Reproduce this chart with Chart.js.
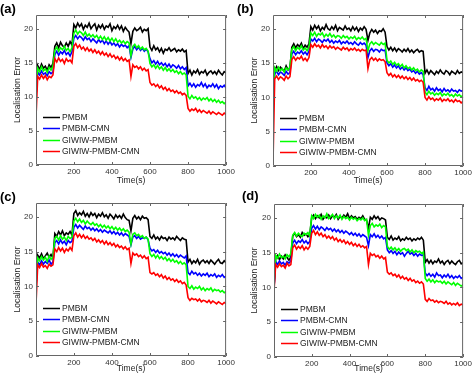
<!DOCTYPE html>
<html>
<head>
<meta charset="utf-8">
<script src="https://cdn.jsdelivr.net/npm/chart.js@4.4.1/dist/chart.umd.min.js"></script>
<style>
  body { margin: 0; background: #fff; }
  #wrap { position: relative; width: 474px; height: 376px; overflow: hidden; }
  canvas { position: absolute; }
  .tag { position: absolute; font: bold 13px "Liberation Sans", Arial, sans-serif; line-height: 13px; color: #000; }
</style>
</head>
<body>
<div id="wrap">
  <canvas id="pa" width="237" height="188" style="left:0;top:0"></canvas>
  <canvas id="pb" width="237" height="188" style="left:237px;top:0"></canvas>
  <canvas id="pc" width="237" height="188" style="left:0;top:188px"></canvas>
  <canvas id="pd" width="237" height="188" style="left:237px;top:188px"></canvas>
  <div class="tag" style="left:0;top:2px">(a)</div>
  <div class="tag" style="left:237px;top:2px">(b)</div>
  <div class="tag" style="left:0;top:190px">(c)</div>
  <div class="tag" style="left:242px;top:189px">(d)</div>
</div>
<script>
const seriesNames = ["PMBM", "PMBM-CMN", "GIWIW-PMBM", "GIWIW-PMBM-CMN"];
const seriesColors = ["#000000", "#0000ff", "#00ff00", "#ff0000"];
const xTicks = [200, 400, 600, 800, 1000];
const yTicks = [0, 5, 10, 15, 20];

// time (s) of every sample, read at 10 s spacing
const time = [1,
  10, 20, 30, 40, 50, 60, 70, 80, 90,
  100, 110, 120, 130, 140, 150, 160, 170, 180, 190,
  200, 210, 220, 230, 240, 250, 260, 270, 280, 290,
  300, 310, 320, 330, 340, 350, 360, 370, 380, 390,
  400, 410, 420, 430, 440, 450, 460, 470, 480, 490,
  500,
  510, 520, 530, 540, 550, 560, 570, 580, 590,
  600, 610, 620, 630, 640, 650, 660, 670, 680, 690,
  700, 710, 720, 730, 740, 750, 760, 770, 780, 790,
  800, 810, 820, 830, 840, 850, 860, 870, 880, 890,
  900, 910, 920, 930, 940, 950, 960, 970, 980, 990, 1000];

// ---- (a)
const blackA = [10.0,
  14.6, 14.0, 14.8, 14.2, 14.5, 13.9, 14.7, 14.3, 14.9,
  17.4, 17.9, 17.2, 18.0, 17.5, 17.3, 17.9, 17.4, 18.1, 17.6,
  20.6, 20.1, 20.8, 20.3, 20.7, 19.9, 20.5, 20.2, 20.8, 20.0,
  20.4, 20.7, 19.8, 20.5, 20.1, 20.6, 19.9, 20.4, 20.2, 20.7,
  19.7, 20.3, 20.0, 20.5, 19.9, 20.4, 19.6, 20.2, 19.8, 19.5,
  17.8,
  19.6, 20.1, 19.7, 19.9, 20.2, 19.5, 19.9, 19.7, 20.0,
  17.3, 16.8, 17.5, 16.9, 17.2, 16.6, 17.1, 16.4, 17.0, 16.8,
  17.2, 16.7, 16.9, 17.1, 16.6, 16.9, 16.7, 17.0, 16.6, 16.8,
  13.4, 13.9, 13.2, 13.8, 13.5, 14.0, 13.3, 13.7, 13.5, 13.9,
  13.2, 13.6, 13.8, 13.4, 13.7, 13.3, 13.9, 13.5, 13.2, 13.7, 13.5];
const blueA = [10.0,
  13.6, 13.2, 13.8, 13.3, 13.5, 13.1, 13.7, 13.4, 13.6,
  16.2, 16.7, 16.1, 16.6, 16.3, 16.8, 16.2, 16.5, 16.0, 16.6,
  18.6, 19.0, 18.5, 18.9, 18.7, 18.3, 18.8, 18.4, 18.6, 18.1,
  18.5, 18.2, 17.9, 18.4, 18.0, 18.3, 17.8, 18.2, 17.7, 18.1,
  17.6, 17.9, 17.5, 17.8, 17.3, 17.7, 17.4, 17.6, 17.2, 17.5,
  15.8,
  17.0, 17.4, 16.9, 17.3, 16.8, 17.1, 16.7, 17.0, 16.6,
  15.6, 15.0, 15.3, 14.8, 15.2, 14.7, 15.0, 14.6, 14.9, 14.4,
  14.8, 14.3, 14.7, 14.5, 14.2, 14.6, 14.1, 14.4, 14.0, 14.3,
  11.6, 12.0, 11.5, 11.9, 11.4, 11.8, 11.6, 12.1, 11.5, 11.9,
  11.3, 11.7, 11.5, 11.9, 11.4, 11.8, 11.2, 11.6, 11.4, 11.7, 11.3];
const greenA = [10.5,
  14.2, 13.7, 14.4, 13.8, 14.1, 13.6, 14.3, 13.9, 14.5,
  16.8, 17.3, 16.7, 17.2, 16.9, 17.4, 16.8, 17.1, 16.6, 17.2,
  19.3, 19.8, 19.2, 19.6, 19.4, 19.0, 19.5, 18.9, 19.2, 18.8,
  19.1, 18.7, 19.0, 18.5, 18.9, 18.4, 18.8, 18.3, 18.7, 18.2,
  18.6, 18.1, 18.5, 18.0, 18.3, 17.9, 18.2, 17.8, 18.1, 17.9,
  16.0,
  17.4, 17.7, 17.2, 17.5, 17.0, 17.3, 16.9, 17.1, 16.7,
  14.9, 14.4, 14.7, 14.2, 14.6, 14.1, 14.4, 13.9, 14.3, 13.8,
  14.1, 13.7, 14.0, 13.6, 13.8, 13.4, 13.7, 13.3, 13.5, 13.2,
  10.1, 9.7, 10.2, 9.8, 10.0, 9.6, 9.9, 9.5, 9.8, 9.6,
  9.9, 9.4, 9.7, 9.3, 9.6, 9.2, 9.5, 9.1, 9.3, 9.0, 9.2];
const redA = [7.0,
  13.0, 12.6, 13.2, 12.7, 13.1, 12.5, 13.0, 12.8, 13.2,
  15.6, 15.1, 15.7, 15.2, 15.5, 14.9, 15.6, 15.2, 15.4, 15.0,
  17.4, 17.8, 17.2, 17.6, 17.0, 17.3, 16.8, 17.2, 16.7, 17.0,
  16.5, 16.9, 16.4, 16.7, 16.2, 16.6, 16.1, 16.4, 15.9, 16.3,
  15.8, 16.1, 15.6, 15.9, 15.4, 15.8, 15.3, 15.6, 15.2, 15.4,
  13.0,
  14.7, 14.3, 14.5, 14.1, 14.4, 13.9, 14.2, 13.8, 14.0,
  12.1, 11.7, 11.9, 11.5, 11.8, 11.3, 11.6, 11.1, 11.4, 10.9,
  11.2, 10.8, 11.0, 10.6, 10.9, 10.5, 10.7, 10.3, 10.5, 10.2,
  8.3, 7.9, 8.2, 8.0, 8.3, 7.8, 8.1, 7.7, 8.0, 7.8,
  7.6, 7.9, 7.5, 7.8, 7.6, 7.4, 7.7, 7.5, 7.3, 7.6, 7.4];

// ---- (b)
const blackB = [10.0,
  14.0, 14.5, 13.9, 14.4, 14.1, 13.8, 14.6, 14.0, 14.3,
  17.3, 17.8, 17.2, 17.7, 17.4, 17.9, 17.1, 17.6, 17.3, 17.8,
  20.3, 19.8, 20.5, 20.0, 20.4, 19.7, 20.2, 19.9, 20.6, 20.0,
  19.8, 20.3, 19.9, 20.5, 19.7, 20.2, 20.0, 19.8, 20.4, 19.9,
  20.1, 19.7, 20.3, 19.8, 20.2, 19.6, 20.1, 19.8, 20.3, 19.9,
  18.3,
  19.4, 19.9, 19.5, 19.8, 19.3, 19.7, 19.6, 20.0, 19.5,
  17.4, 16.9, 17.3, 16.8, 17.2, 16.7, 17.1, 16.9, 16.6, 17.0,
  16.7, 17.1, 16.6, 16.9, 16.5, 16.8, 17.0, 16.6, 16.8, 16.7,
  13.5, 14.0, 13.4, 13.9, 13.6, 13.3, 13.8, 13.5, 14.0, 13.6,
  13.4, 13.9, 13.7, 13.3, 13.8, 13.6, 13.4, 13.9, 13.5, 13.7, 13.6];
const blueB = [10.0,
  13.4, 13.8, 13.3, 13.7, 13.5, 13.2, 13.8, 13.4, 13.6,
  16.3, 16.7, 16.2, 16.6, 16.4, 16.8, 16.3, 16.6, 16.2, 16.7,
  18.5, 18.2, 18.6, 18.1, 18.5, 18.3, 18.0, 18.4, 18.2, 18.5,
  18.0, 18.3, 17.9, 18.2, 18.0, 18.3, 17.8, 18.1, 17.9, 18.2,
  17.8, 18.0, 17.7, 18.1, 17.8, 17.6, 18.0, 17.7, 17.9, 17.6,
  15.8,
  16.8, 17.1, 16.7, 17.0, 16.9, 16.6, 17.0, 16.8, 16.9,
  15.0, 14.6, 14.9, 14.4, 14.7, 14.3, 14.6, 14.1, 14.4, 14.0,
  14.3, 13.9, 14.1, 13.7, 13.9, 13.5, 13.8, 13.4, 13.6, 13.3,
  11.4, 11.0, 11.6, 11.1, 11.3, 10.9, 11.4, 11.0, 11.2, 10.8,
  11.3, 10.9, 11.1, 10.8, 11.2, 10.9, 11.0, 10.7, 11.1, 10.9, 11.0];
const greenB = [10.5,
  14.3, 13.8, 14.4, 13.9, 14.2, 13.7, 14.3, 14.0, 14.4,
  17.0, 17.4, 16.8, 17.3, 17.0, 17.5, 16.9, 17.2, 16.8, 17.3,
  19.4, 19.0, 19.5, 18.9, 19.3, 19.1, 19.4, 18.8, 19.2, 18.9,
  19.3, 18.8, 19.1, 18.7, 19.0, 18.9, 18.6, 19.0, 18.7, 18.9,
  18.5, 18.8, 18.6, 18.9, 18.4, 18.7, 18.5, 18.8, 18.4, 18.6,
  16.8,
  17.8, 18.1, 17.7, 18.0, 17.8, 17.6, 18.0, 17.7, 17.9,
  15.4, 15.0, 15.3, 14.8, 15.1, 14.7, 14.9, 14.5, 14.8, 14.3,
  14.6, 14.2, 14.4, 14.0, 14.3, 13.9, 14.1, 13.7, 14.0, 13.8,
  10.8, 10.4, 10.9, 10.5, 10.7, 10.3, 10.6, 10.4, 10.7, 10.2,
  10.5, 10.3, 10.6, 10.2, 10.4, 10.1, 10.5, 10.2, 10.4, 10.1, 10.3];
const redB = [0.5,
  12.7, 13.1, 12.6, 13.0, 12.8, 12.5, 13.1, 12.7, 13.0,
  15.5, 15.9, 15.4, 15.8, 15.6, 16.0, 15.4, 15.7, 15.3, 15.8,
  17.7, 17.3, 17.8, 17.4, 17.6, 17.2, 17.7, 17.3, 17.5, 17.1,
  17.5, 17.2, 17.4, 17.0, 17.3, 17.1, 16.9, 17.3, 17.0, 17.2,
  16.8, 17.1, 16.9, 17.2, 16.8, 17.0, 16.7, 17.0, 16.8, 16.9,
  14.2,
  15.5, 15.8, 15.4, 15.7, 15.3, 15.6, 15.4, 15.5, 15.2,
  13.6, 13.2, 13.5, 13.0, 13.3, 12.9, 13.2, 12.8, 13.1, 12.7,
  13.0, 12.6, 12.9, 12.5, 12.8, 12.4, 12.6, 12.3, 12.5, 12.2,
  10.0, 9.6, 10.1, 9.7, 9.9, 9.5, 9.8, 9.6, 9.9, 9.4,
  9.7, 9.5, 9.8, 9.4, 9.6, 9.3, 9.7, 9.4, 9.5, 9.2, 9.4];

// ---- (c)
const blackC = [10.0,
  14.5, 14.1, 14.7, 14.0, 14.4, 14.8, 14.2, 14.6, 14.1,
  17.6, 17.2, 17.9, 17.4, 18.0, 17.3, 17.7, 17.5, 17.9, 17.4,
  20.5, 20.9, 20.2, 20.6, 20.3, 20.8, 20.1, 20.5, 20.0, 20.6,
  20.2, 20.5, 19.9, 20.4, 20.1, 20.6, 20.0, 20.3, 19.8, 20.4,
  20.1, 19.7, 20.3, 19.9, 20.2, 19.8, 20.4, 19.9, 19.6, 19.5,
  18.0,
  19.8, 20.2, 19.7, 20.0, 19.6, 20.1, 19.8, 19.9, 19.6,
  17.2, 16.9, 17.4, 16.8, 17.1, 16.7, 17.2, 16.9, 17.0, 16.6,
  17.1, 16.8, 17.0, 16.7, 17.2, 16.9, 16.6, 17.0, 16.8, 16.7,
  13.5, 13.9, 13.3, 13.7, 13.4, 13.9, 13.2, 13.6, 13.8, 13.4,
  13.7, 13.3, 13.8, 13.5, 13.2, 13.6, 13.9, 13.4, 13.3, 13.7, 13.4];
const blueC = [10.0,
  13.5, 13.1, 13.7, 13.2, 13.6, 13.3, 13.8, 13.2, 13.5,
  16.3, 16.6, 16.1, 16.7, 16.2, 16.5, 16.0, 16.6, 16.3, 16.5,
  18.5, 18.9, 18.4, 18.8, 18.5, 18.2, 18.7, 18.3, 18.5, 18.1,
  18.4, 18.0, 18.3, 17.9, 18.2, 17.8, 18.1, 17.9, 17.7, 18.0,
  17.6, 17.9, 17.5, 17.8, 17.4, 17.7, 17.3, 17.6, 17.4, 17.2,
  16.0,
  17.1, 17.3, 16.9, 17.2, 16.8, 17.0, 16.9, 17.1, 16.7,
  15.5, 15.1, 15.3, 14.9, 15.2, 14.8, 15.0, 14.7, 14.9, 14.5,
  14.8, 14.4, 14.7, 14.3, 14.6, 14.2, 14.5, 14.3, 14.1, 14.4,
  12.0, 11.7, 12.2, 11.8, 12.0, 11.6, 11.9, 11.5, 11.8, 11.6,
  11.9, 11.4, 11.7, 11.5, 11.8, 11.3, 11.6, 11.4, 11.7, 11.3, 11.5];
const greenC = [10.5,
  14.1, 13.7, 14.3, 13.8, 14.2, 13.6, 14.4, 13.9, 14.2,
  16.9, 17.2, 16.7, 17.3, 16.8, 17.1, 16.6, 17.2, 16.9, 17.1,
  19.4, 19.8, 19.3, 19.7, 19.2, 19.5, 19.0, 19.4, 19.1, 18.9,
  19.2, 18.8, 19.0, 18.6, 18.9, 18.5, 18.8, 18.4, 18.7, 18.3,
  18.6, 18.2, 18.5, 18.1, 18.4, 18.0, 18.3, 17.9, 18.1, 17.8,
  16.1,
  17.5, 17.7, 17.3, 17.5, 17.1, 17.3, 16.9, 17.1, 16.8,
  14.7, 14.3, 14.6, 14.1, 14.5, 14.0, 14.3, 13.9, 14.2, 13.7,
  14.0, 13.6, 13.9, 13.5, 13.7, 13.3, 13.6, 13.2, 13.4, 13.1,
  10.0, 9.7, 10.1, 9.6, 9.9, 9.7, 10.0, 9.5, 9.8, 9.4,
  9.7, 9.5, 9.8, 9.3, 9.6, 9.4, 9.5, 9.2, 9.4, 9.1, 9.3];
const redC = [7.5,
  13.1, 12.7, 13.3, 12.8, 13.0, 12.6, 13.2, 12.9, 13.1,
  15.4, 15.0, 15.6, 15.1, 15.5, 14.9, 15.4, 15.1, 15.6, 15.2,
  17.3, 17.7, 17.1, 17.5, 17.0, 17.4, 16.9, 17.2, 16.8, 17.0,
  16.6, 16.9, 16.4, 16.7, 16.3, 16.6, 16.1, 16.5, 16.0, 16.3,
  15.9, 16.2, 15.7, 16.0, 15.6, 15.8, 15.4, 15.7, 15.3, 15.5,
  13.3,
  14.8, 14.5, 14.7, 14.3, 14.5, 14.1, 14.4, 14.0, 14.2,
  12.0, 11.8, 12.0, 11.6, 11.8, 11.4, 11.7, 11.2, 11.5, 11.0,
  11.3, 10.9, 11.1, 10.7, 11.0, 10.6, 10.8, 10.4, 10.6, 10.2,
  8.4, 8.0, 8.3, 8.1, 8.2, 7.9, 8.2, 7.8, 8.0, 7.9,
  7.7, 8.0, 7.6, 7.9, 7.7, 7.5, 7.8, 7.6, 7.4, 7.7, 7.5];

// ---- (d)
const blackD = [10.0,
  14.2, 14.6, 14.0, 14.5, 14.1, 14.7, 14.3, 13.9, 14.4,
  17.4, 17.8, 17.3, 17.6, 17.2, 17.9, 17.5, 17.7, 17.3, 17.6,
  20.0, 20.4, 19.9, 20.3, 20.0, 20.5, 19.8, 20.2, 20.0, 20.4,
  19.9, 20.3, 20.1, 20.5, 19.8, 20.2, 20.0, 20.4, 20.1, 20.6,
  19.9, 20.3, 20.0, 20.2, 19.8, 20.1, 19.9, 20.3, 19.8, 19.7,
  18.5,
  20.1, 19.8, 20.3, 19.9, 20.2, 19.7, 20.0, 19.9, 19.7,
  17.2, 16.9, 17.4, 16.8, 17.1, 16.9, 17.3, 16.7, 17.0, 16.8,
  17.2, 16.9, 17.1, 16.7, 17.0, 16.8, 17.1, 16.9, 17.2, 16.8,
  13.6, 14.0, 13.5, 13.9, 13.4, 13.8, 13.6, 14.1, 13.5, 13.8,
  13.3, 13.7, 13.9, 13.4, 13.8, 13.5, 13.3, 13.7, 13.9, 13.4, 13.6];
const blueD = [10.0,
  13.7, 13.3, 13.8, 13.4, 13.6, 13.2, 13.7, 13.5, 13.8,
  16.4, 16.8, 16.3, 16.7, 16.5, 16.9, 16.4, 16.7, 16.3, 16.6,
  18.5, 18.9, 18.4, 18.8, 18.3, 18.7, 18.5, 18.2, 18.6, 18.3,
  18.5, 18.1, 18.4, 18.0, 18.3, 17.9, 18.2, 17.8, 18.1, 17.9,
  17.6, 17.9, 17.5, 17.8, 17.4, 17.7, 17.3, 17.6, 17.4, 17.2,
  16.0,
  17.6, 17.3, 17.7, 17.2, 17.5, 17.1, 17.4, 17.0, 17.2,
  15.4, 15.0, 15.3, 14.9, 15.2, 14.7, 15.1, 14.8, 15.0, 14.5,
  14.9, 15.2, 14.8, 15.0, 14.6, 14.9, 14.5, 14.8, 14.6, 14.7,
  12.1, 11.7, 12.0, 11.6, 11.9, 11.5, 12.1, 11.7, 11.8, 11.4,
  11.8, 11.5, 11.9, 11.4, 11.7, 11.3, 11.6, 11.4, 11.7, 11.3, 11.5];
const greenD = [10.5,
  14.6, 14.2, 14.8, 14.3, 14.5, 14.1, 14.7, 14.4, 14.9,
  17.5, 17.9, 17.4, 17.8, 17.5, 17.3, 17.8, 17.6, 17.9, 17.4,
  20.3, 19.9, 20.5, 20.1, 20.4, 19.8, 20.3, 20.0, 20.6, 19.9,
  20.2, 20.5, 19.9, 20.3, 20.0, 20.4, 19.8, 20.2, 19.9, 20.1,
  19.7, 20.1, 19.8, 20.0, 19.6, 19.9, 19.7, 20.0, 19.6, 19.8,
  17.5,
  18.9, 19.2, 18.7, 19.0, 18.8, 19.1, 18.6, 18.9, 18.7,
  15.9, 15.5, 15.8, 15.4, 15.7, 15.3, 15.6, 15.2, 15.5, 15.6,
  15.3, 15.5, 15.1, 15.4, 15.0, 15.3, 15.1, 15.2, 14.9, 15.1,
  11.3, 10.9, 11.2, 10.8, 11.1, 10.7, 11.0, 10.8, 10.9, 10.6,
  10.9, 10.5, 10.8, 10.6, 10.4, 10.7, 10.3, 10.6, 10.4, 10.2, 10.4];
const redD = [9.5,
  13.3, 12.9, 13.4, 13.0, 13.2, 12.8, 13.5, 13.1, 13.3,
  15.7, 16.1, 15.5, 15.9, 15.6, 16.0, 15.4, 15.8, 15.5, 15.9,
  17.8, 18.2, 17.6, 18.0, 17.5, 17.8, 17.3, 17.6, 17.1, 17.4,
  17.0, 17.3, 16.8, 17.1, 16.6, 16.9, 16.5, 16.8, 16.3, 16.6,
  16.2, 16.5, 16.0, 16.3, 15.9, 16.2, 15.8, 16.0, 15.7, 15.9,
  13.3,
  14.9, 14.6, 14.8, 14.4, 14.6, 14.2, 14.5, 14.1, 14.3,
  12.2, 11.9, 12.1, 11.7, 11.9, 11.5, 11.8, 11.3, 11.6, 11.2,
  11.4, 11.0, 11.3, 10.9, 11.1, 10.7, 10.9, 10.6, 10.8, 10.5,
  8.3, 8.0, 8.4, 8.1, 8.2, 7.9, 8.1, 7.8, 8.0, 7.9,
  7.7, 8.0, 7.6, 7.8, 7.5, 7.7, 7.5, 7.8, 7.4, 7.6, 7.5];


const FONT = '"Liberation Sans", Arial, Helvetica, sans-serif';
const TEXT = "#333";

// box + inward ticks + legend, MATLAB style
const framePlugin = {
  id: "frame",
  afterDatasetsDraw(chart) {
    const ctx = chart.ctx;
    const a = chart.chartArea;
    const sx = chart.scales.x;
    const sy = chart.scales.y;

    ctx.save();
    ctx.strokeStyle = "#666";
    ctx.lineWidth = 1;
    ctx.beginPath();
    ctx.rect(a.left + 0.5, a.top + 0.5, a.right - a.left - 1, a.bottom - a.top - 1);
    xTicks.forEach(v => {
      const px = Math.round(sx.getPixelForValue(v)) + 0.5;
      ctx.moveTo(px, a.bottom);
      ctx.lineTo(px, a.bottom - 3);
      ctx.moveTo(px, a.top);
      ctx.lineTo(px, a.top + 3);
    });
    yTicks.forEach(v => {
      const py = Math.round(sy.getPixelForValue(v)) + 0.5;
      ctx.moveTo(a.left, py);
      ctx.lineTo(a.left + 3, py);
      ctx.moveTo(a.right, py);
      ctx.lineTo(a.right - 3, py);
    });
    ctx.stroke();

    ctx.font = "8.5px " + FONT;
    ctx.textBaseline = "middle";
    ctx.textAlign = "left";
    chart.data.datasets.forEach((ds, i) => {
      const yy = Math.round(a.bottom - 14 - (3 - i) * 11.3) + 0.5;
      ctx.strokeStyle = ds.borderColor;
      ctx.lineWidth = 1.5;
      ctx.beginPath();
      ctx.moveTo(a.left + 7, yy);
      ctx.lineTo(a.left + 24, yy);
      ctx.stroke();
      ctx.fillStyle = "#222";
      ctx.fillText(ds.label, a.left + 26, yy);
    });
    ctx.restore();
  }
};


function makePanel(id, series, box) {

  series.forEach((s, i) => {
    if (s.length !== time.length) {
      throw new Error(id + " series " + i + " has " + s.length + " values");
    }
  });

  const datasets = series.map((s, i) => ({
    label: seriesNames[i],
    data: time.map((t, k) => ({ x: t, y: s[k] })),
    borderColor: seriesColors[i],
    borderWidth: 1.6,
    pointRadius: 0,
    tension: 0,
    fill: false,
    order: 3 - i
  }));

  return new Chart(document.getElementById(id), {
    type: "line",
    data: { datasets: datasets },
    options: {
      responsive: false,
      animation: false,
      events: [],
      layout: {
        padding: { left: 0, right: 237 - box.right, top: box.top, bottom: 0 }
      },
      plugins: {
        legend: { display: false },
        tooltip: { enabled: false }
      },
      scales: {
        x: {
          type: "linear",
          min: 1,
          max: 1000,
          afterBuildTicks: s => { s.ticks = xTicks.map(v => ({ value: v })); },
          afterFit: s => { s.height = 188 - box.bottom; },
          grid: { display: false, drawTicks: false, tickLength: 0 },
          border: { display: false },
          ticks: {
            autoSkip: false,
            maxRotation: 0,
            padding: 2,
            color: TEXT,
            font: { family: FONT, size: 8 },
            callback: v => String(v)
          },
          title: {
            display: true,
            text: "Time(s)",
            color: "#222",
            font: { family: FONT, size: 8.5 },
            padding: { top: 0, bottom: 2 }
          }
        },
        y: {
          min: 0,
          max: 22,
          afterBuildTicks: s => { s.ticks = yTicks.map(v => ({ value: v })); },
          afterFit: s => { s.width = box.left; },
          grid: { display: false, drawTicks: false, tickLength: 0 },
          border: { display: false },
          ticks: {
            autoSkip: false,
            padding: 3,
            color: TEXT,
            font: { family: FONT, size: 8 },
            callback: v => String(v)
          },
          title: {
            display: true,
            text: "Localisation Error",
            color: "#222",
            font: { family: FONT, size: 8.5 },
            padding: { top: 13, bottom: 0 }
          }
        }
      }
    },
    plugins: [framePlugin]
  });
}


makePanel("pa", [blackA, blueA, greenA, redA], { left: 36, right: 227, top: 15, bottom: 165 });
makePanel("pb", [blackB, blueB, greenB, redB], { left: 36, right: 228, top: 15, bottom: 166 });
makePanel("pc", [blackC, blueC, greenC, redC], { left: 36, right: 227, top: 15, bottom: 168 });
makePanel("pd", [blackD, blueD, greenD, redD], { left: 37, right: 228, top: 16, bottom: 169 });
</script>
</body>
</html>
